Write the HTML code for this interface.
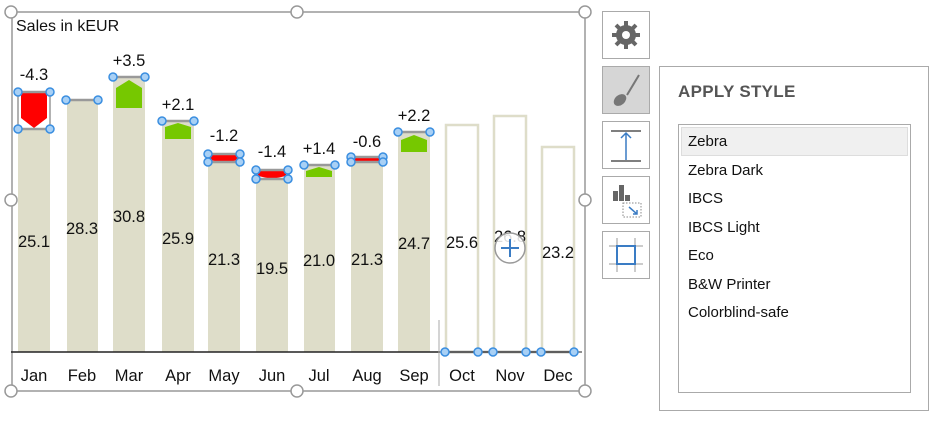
<!DOCTYPE html><html><head><style>
body{margin:0;width:940px;height:425px;background:#fff;position:relative;font-family:"Liberation Sans",sans-serif;overflow:hidden}
.a{position:absolute}
.btn{position:absolute;left:602px;width:46px;height:46px;border:1px solid #aaa;background:#fff}
.it{position:absolute;left:688px;font-size:15px;color:#111}
</style></head><body>
<svg class="a" style="left:0;top:0" width="600" height="425" font-family="Liberation Sans, sans-serif">
<rect x="12" y="12" width="573" height="379" fill="none" stroke="#999" stroke-width="1.5"/>
<text x="16" y="31" font-size="16" fill="#111">Sales in kEUR</text>
<g fill="#deddc9">
<rect x="18" y="129" width="32" height="223"/>
<rect x="67" y="100" width="31" height="252"/>
<rect x="113" y="77" width="32" height="275"/>
<rect x="162" y="121" width="32" height="231"/>
<rect x="208" y="162" width="32" height="190"/>
<rect x="256" y="179" width="32" height="173"/>
<rect x="304" y="165" width="31" height="187"/>
<rect x="351" y="162" width="32" height="190"/>
<rect x="398" y="132" width="32" height="220"/>
</g>
<g fill="none" stroke="#deddc9" stroke-width="2.5">
<rect x="446" y="125" width="32" height="227"/>
<rect x="494" y="116" width="32" height="236"/>
<rect x="542" y="147" width="32" height="205"/>
</g>
<g fill="#f00"><polygon points="21,92 47,92 47,118 34,128 21,118"/>
<polygon points="210,154 238,154 238,160 224,163 210,160"/>
<polygon points="258,170 286,170 286,176 272,179 258,176"/>
<rect x="354" y="158" width="27" height="3"/></g>
<g fill="#76c800"><polygon points="116,108 142,108 142,88 129,80 116,88"/>
<polygon points="165,139 191,139 191,127 178,123 165,127"/>
<polygon points="306,177 332,177 332,171 319,167 306,171"/>
<polygon points="401,152 427,152 427,140 414,135 401,140"/></g>
<g stroke="#999" stroke-width="2.5">
<line x1="18" y1="129" x2="50" y2="129"/><line x1="18" y1="92" x2="50" y2="92"/>
<line x1="66" y1="100" x2="98" y2="100"/><line x1="113" y1="77" x2="145" y2="77"/>
<line x1="162" y1="121" x2="194" y2="121"/><line x1="208" y1="154" x2="240" y2="154"/><line x1="208" y1="162" x2="240" y2="162"/>
<line x1="256" y1="170" x2="288" y2="170"/><line x1="256" y1="179" x2="288" y2="179"/>
<line x1="304" y1="165" x2="335" y2="165"/><line x1="351" y1="157" x2="383" y2="157"/><line x1="351" y1="162" x2="383" y2="162"/>
<line x1="398" y1="132" x2="430" y2="132"/>
<line x1="445" y1="352" x2="575" y2="352"/>
<line x1="18" y1="92" x2="18" y2="129" stroke-width="1.5"/><line x1="50" y1="92" x2="50" y2="129" stroke-width="1.5"/>
</g>
<line x1="11" y1="352" x2="440" y2="352" stroke="#222" stroke-width="1.5"/>
<line x1="440" y1="352" x2="582" y2="352" stroke="#222" stroke-width="1"/>
<line x1="439" y1="320" x2="439" y2="386" stroke="#aaa" stroke-width="1"/>
<g fill="#a8d0f5" stroke="#3a8ee0" stroke-width="1.5">
<circle cx="18" cy="92" r="4"/><circle cx="50" cy="92" r="4"/><circle cx="18" cy="129" r="4"/><circle cx="50" cy="129" r="4"/>
<circle cx="66" cy="100" r="4"/><circle cx="98" cy="100" r="4"/><circle cx="113" cy="77" r="4"/><circle cx="145" cy="77" r="4"/>
<circle cx="162" cy="121" r="4"/><circle cx="194" cy="121" r="4"/>
<circle cx="208" cy="154" r="4"/><circle cx="240" cy="154" r="4"/><circle cx="208" cy="162" r="4"/><circle cx="240" cy="162" r="4"/>
<circle cx="256" cy="170" r="4"/><circle cx="288" cy="170" r="4"/><circle cx="256" cy="179" r="4"/><circle cx="288" cy="179" r="4"/>
<circle cx="304" cy="165" r="4"/><circle cx="335" cy="165" r="4"/>
<circle cx="351" cy="157" r="4"/><circle cx="383" cy="157" r="4"/><circle cx="351" cy="162" r="4"/><circle cx="383" cy="162" r="4"/>
<circle cx="398" cy="132" r="4"/><circle cx="430" cy="132" r="4"/>
<circle cx="445" cy="352" r="4"/><circle cx="478" cy="352" r="4"/><circle cx="493" cy="352" r="4"/><circle cx="526" cy="352" r="4"/><circle cx="541" cy="352" r="4"/><circle cx="574" cy="352" r="4"/>
</g>
<g font-size="16.5" fill="#111" text-anchor="middle">
<text x="34" y="80">-4.3</text><text x="129" y="66">+3.5</text><text x="178" y="110">+2.1</text>
<text x="224" y="141">-1.2</text><text x="272" y="157">-1.4</text><text x="319" y="154">+1.4</text>
<text x="367" y="147">-0.6</text><text x="414" y="121">+2.2</text>
<text x="34" y="247">25.1</text><text x="82" y="234">28.3</text><text x="129" y="222">30.8</text><text x="178" y="244">25.9</text>
<text x="224" y="265">21.3</text><text x="272" y="274">19.5</text><text x="319" y="266">21.0</text><text x="367" y="265">21.3</text>
<text x="414" y="249">24.7</text><text x="462" y="248">25.6</text><text x="510" y="242">26.8</text><text x="558" y="258">23.2</text>
<text x="34" y="381">Jan</text><text x="82" y="381">Feb</text><text x="129" y="381">Mar</text><text x="178" y="381">Apr</text>
<text x="224" y="381">May</text><text x="272" y="381">Jun</text><text x="319" y="381">Jul</text><text x="367" y="381">Aug</text>
<text x="414" y="381">Sep</text><text x="462" y="381">Oct</text><text x="510" y="381">Nov</text><text x="558" y="381">Dec</text>
</g>
<circle cx="510" cy="248" r="15" fill="rgba(255,255,255,0.85)" stroke="#999" stroke-width="1.5"/>
<path d="M510 239v18M501 248h18" stroke="#3a7cc4" stroke-width="2"/>
<g fill="#fff" stroke="#999" stroke-width="1.5">
<circle cx="11" cy="12" r="6"/><circle cx="297" cy="12" r="6"/><circle cx="585" cy="12" r="6"/>
<circle cx="11" cy="200" r="6"/><circle cx="585" cy="200" r="6"/>
<circle cx="11" cy="391" r="6"/><circle cx="297" cy="391" r="6"/><circle cx="585" cy="391" r="6"/>
</g>
</svg>
<div class="btn" style="top:11px"><svg width="46" height="46"><circle cx="23" cy="23" r="10" fill="#666"/><g stroke="#666" stroke-width="4"><line x1="23" y1="9" x2="23" y2="37"/><line x1="9" y1="23" x2="37" y2="23"/><line x1="13" y1="13" x2="33" y2="33"/><line x1="33" y1="13" x2="13" y2="33"/></g><circle cx="23" cy="23" r="4" fill="#fff"/></svg></div>
<div class="btn" style="top:66px;background:#d6d6d6"><svg width="46" height="46"><path d="M36 8 L24 28" stroke="#777" stroke-width="2" fill="none"/><ellipse cx="17" cy="33" rx="7" ry="5" fill="#777" transform="rotate(-40 17 33)"/></svg></div>
<div class="btn" style="top:121px"><svg width="46" height="46"><line x1="8" y1="9" x2="38" y2="9" stroke="#555" stroke-width="1.5"/><line x1="8" y1="39" x2="38" y2="39" stroke="#555" stroke-width="1.5"/><path d="M23 38V11M18 16l5-5 5 5" stroke="#3a7cc4" stroke-width="1.5" fill="none"/></svg></div>
<div class="btn" style="top:176px"><svg width="46" height="46"><rect x="10" y="14" width="5" height="10" fill="#666"/><rect x="16" y="8" width="5" height="16" fill="#666"/><rect x="22" y="18" width="5" height="6" fill="#666"/><rect x="20" y="26" width="18" height="14" fill="none" stroke="#888" stroke-dasharray="1.5 1.5"/><path d="M26 30l8 7M30 37h4v-4" stroke="#3a7cc4" stroke-width="1.5" fill="none"/></svg></div>
<div class="btn" style="top:231px"><svg width="46" height="46"><g stroke="#999"><line x1="6" y1="14" x2="40" y2="14"/><line x1="6" y1="32" x2="40" y2="32"/><line x1="14" y1="6" x2="14" y2="40"/><line x1="32" y1="6" x2="32" y2="40"/></g><rect x="14" y="14" width="18" height="18" fill="none" stroke="#3a7cc4" stroke-width="2"/></svg></div>
<div class="a" style="left:659px;top:66px;width:268px;height:343px;border:1px solid #aaa"></div>
<div class="a" style="left:678px;top:82px;font-size:17px;color:#555;font-weight:bold;letter-spacing:0.3px">APPLY STYLE</div>
<div class="a" style="left:678px;top:124px;width:231px;height:267px;border:1px solid #aaa"></div>
<div class="a" style="left:681px;top:127px;width:225px;height:27px;background:#f0f0f0;border:1px solid #ddd"></div>
<div class="it" style="top:133px">Zebra</div>
<div class="it" style="top:162px">Zebra Dark</div>
<div class="it" style="top:190px">IBCS</div>
<div class="it" style="top:219px">IBCS Light</div>
<div class="it" style="top:247px">Eco</div>
<div class="it" style="top:276px">B&amp;W Printer</div>
<div class="it" style="top:304px">Colorblind-safe</div>
</body></html>
